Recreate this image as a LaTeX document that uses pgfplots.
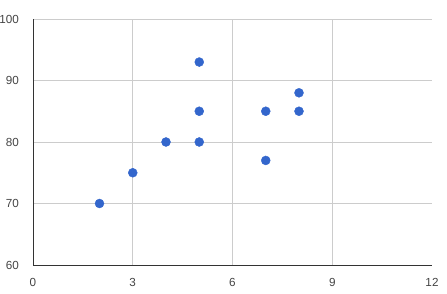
\documentclass[border=0pt]{standalone}
\usepackage{pgfplots}
\pgfplotsset{compat=1.18}
\usepackage{fontspec}
\setmainfont{Liberation Sans}
\definecolor{ptblue}{HTML}{3366CC}
\definecolor{gridc}{HTML}{CCCCCC}
\definecolor{lab}{HTML}{444444}
\begin{document}
\begin{tikzpicture}[x=1pt,y=1pt]
\begin{axis}[
  at={(0,0)}, anchor=south west,
  scale only axis, width=399pt, height=246pt,
  xmin=0, xmax=12, ymin=60, ymax=100,
  xtick={3,6,9}, extra x ticks={0,12}, extra x tick style={grid=none},
  ytick={60,70,80,90,100},
  grid=major, major grid style={gridc, line width=0.8pt},
  axis line style={draw=none},
  tick style={draw=none},
  /pgf/number format/assume math mode=true,
  tick label style={font=\fontsize{11.7}{13}\selectfont, text=lab},
  yticklabel style={anchor=east, inner sep=0pt, xshift=-14pt},
  xticklabel style={anchor=center, inner sep=0pt, yshift=-17.5pt},
  clip=false,
]
\draw[gridc, line width=0.8pt] (axis cs:0,100) -- (axis cs:12,100);
\draw[black!80, line width=0.9pt] (axis cs:0,60) -- (axis cs:0,100);
\draw[black!80, line width=0.9pt] (axis cs:0,60) -- (axis cs:12,60);
\addplot[only marks, mark=*, mark size=4.5pt, mark options={draw=ptblue, fill=ptblue}] coordinates {
(2,70) (3,75) (4,80) (5,80) (5,85) (5,93) (7,85) (7,77) (8,88) (8,85)
};
\end{axis}
\pgfresetboundingbox
\path[use as bounding box] (-33pt,-29pt) rectangle (414pt,265pt);
\end{tikzpicture}
\end{document}
